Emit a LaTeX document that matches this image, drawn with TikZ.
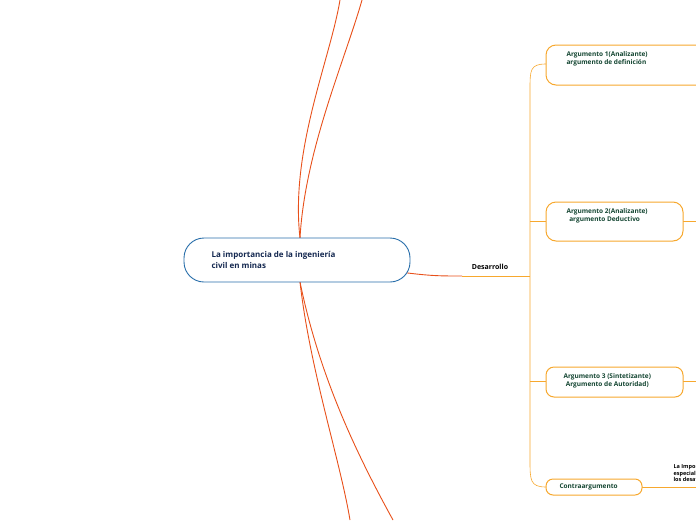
\documentclass[tikz,border=0pt]{standalone}
\usepackage{fontspec}
\setmainfont{Open Sans}
\begin{document}
\begin{tikzpicture}[x=1pt,y=-1pt,
 red/.style={draw={rgb,255:red,232;green,80;blue,26},line width=0.9pt},
 org/.style={draw={rgb,255:red,247;green,168;blue,46},line width=0.6pt},
 argbox/.style={draw={rgb,255:red,247;green,168;blue,46},line width=1pt,rounded corners=10pt,fill=white},
 argtxt/.style={font=\bfseries\fontsize{6.5}{8}\selectfont,text={rgb,255:red,20;green,70;blue,50},align=left,anchor=west}]
\useasboundingbox (0,0) rectangle (696,520);
\begin{scope}
\clip (0,0) rectangle (696,520);
% red branches
\draw[red] (300,238) .. controls (290,150) and (330,60) .. (340,0);
\draw[red] (300,238) .. controls (305,150) and (345,60) .. (362,0);
\draw[red] (300,282) .. controls (310,370) and (340,460) .. (350,520);
\draw[red] (300,282) .. controls (320,380) and (360,460) .. (393,520);
\draw[red] (400,272) .. controls (430,276) and (440,276) .. (462,276);
% central
\draw[draw={rgb,255:red,40;green,110;blue,170},line width=0.9pt,rounded corners=20pt,fill=white] (184,238) rectangle (410,282);
\node[font=\bfseries\fontsize{8}{11}\selectfont,text={rgb,255:red,20;green,40;blue,80},align=left,anchor=west] (c) at (208,260) {La importancia de la ingeniería\\civil en minas};
\node[font=\bfseries\fontsize{7}{8}\selectfont] (d) at (490,267) {Desarrollo};
\draw[org] (462,276) -- (530,276);
\draw[org] (546,64) .. controls (530,64) and (530,70) .. (530,90) -- (530,460) .. controls (530,480) and (530,487) .. (546,487);
\draw[org] (530,221) -- (546,221);
\draw[org] (530,381) -- (546,381);
\draw[org] (683,221) -- (696,221);
\draw[org] (683,381) -- (696,381);
\draw[org] (642,487) -- (696,487);
\draw[argbox] (546,45) rectangle (712,85);
\node[argtxt] (a1) at (563,59) {Argumento 1(Analizante)\\argumento de definición};
\draw[argbox] (546,202) rectangle (683,241);
\node[argtxt] (a2) at (563,216) {Argumento 2(Analizante)\\\ \,argumento Deductivo};
\draw[argbox,rounded corners=8pt] (546,367) rectangle (683,397);
\node[argtxt,align=center] (a3) at (560,381) {Argumento 3 (Sintetizante)\\Argumento de Autoridad)};
\draw[argbox,rounded corners=7pt] (546,479) rectangle (642,495);
\node[argtxt] (ca) at (556,487) {Contraargumento};
\node[font=\bfseries\fontsize{5.5}{6.5}\selectfont,align=left,anchor=west] (t) at (670,473) {La Importancia\\especialmente\\los desafíos};
\end{scope}
\end{tikzpicture}
\end{document}
